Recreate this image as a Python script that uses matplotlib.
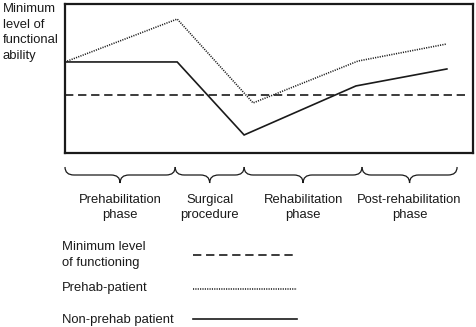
import matplotlib
matplotlib.use("Agg")
import matplotlib.pyplot as plt
from matplotlib.path import Path
from matplotlib.patches import PathPatch
import matplotlib.transforms as mtransforms

plt.rcParams['font.family'] = ['Liberation Sans', 'DejaVu Sans']
plt.rcParams['lines.scale_dashes'] = False

# ---- data (x: time 0-100, y: functional ability 0-100) ----
prehab_x = [0, 27.5, 46.1, 71.8, 93.6]
prehab_y = [61.1, 89.9, 33.6, 61.7, 73.2]
nonprehab_x = [0, 27.5, 43.9, 71.3, 93.6]
nonprehab_y = [61.1, 61.1, 12.1, 45.0, 56.4]
minimum_x = [0, 98.8]
minimum_y = [38.9, 38.9]
phase_edges = [0, 27.0, 43.9, 72.8, 96.1]
phase_labels = ["Prehabilitation\nphase", "Surgical\nprocedure",
                "Rehabilitation\nphase", "Post-rehabilitation\nphase"]
y_label = "Minimum\nlevel of\nfunctional\nability"
legend_labels = ["Minimum level\nof functioning", "Prehab-patient", "Non-prehab patient"]

W, H = 477, 327
fig = plt.figure(figsize=(W / 100, H / 100), dpi=100)
fig.patch.set_facecolor("white")

INK = "#1a1a1a"
FS = 9.4
dash_style = (0, (6.0, 3.4))
dot_style = (0, (0.8, 0.9))

# main axes (pixel box 65..473 x 4..153)
L, R, T, B = 65, 473, 4, 153
ax = fig.add_axes([L / W, (H - B) / H, (R - L) / W, (B - T) / H])
ax.set_xlim(0, 100)
ax.set_ylim(0, 100)
ax.set_xticks([])
ax.set_yticks([])
for s in ax.spines.values():
    s.set_linewidth(1.6)
    s.set_color(INK)

ax.plot(minimum_x, minimum_y, color=INK, lw=1.2, linestyle=dash_style)
ax.plot(prehab_x, prehab_y, color=INK, lw=1.15, linestyle=dot_style)
ax.plot(nonprehab_x, nonprehab_y, color=INK, lw=1.2, solid_joinstyle='miter')

# overlay in pixel coords
ov = fig.add_axes([0, 0, 1, 1], zorder=-1)
ov.set_xlim(0, W)
ov.set_ylim(H, 0)
ov.axis("off")

ov.text(3, 3, y_label, ha="left", va="top", fontsize=FS, color=INK, linespacing=1.4)

# braces: x in data coords of main axes, y in overlay pixels
blend = mtransforms.blended_transform_factory(ax.transData, ov.transData)
yt, ym, ytip = 167, 175, 183
r = 2.2
for i in range(len(phase_edges) - 1):
    x0, x1 = phase_edges[i], phase_edges[i + 1]
    xm = (x0 + x1) / 2
    verts = [(x0, yt), (x0, ym), (x0 + r, ym),
             (xm - r, ym),
             (xm, ym), (xm, ytip),
             (xm, ym), (xm + r, ym),
             (x1 - r, ym),
             (x1, ym), (x1, yt)]
    codes = [Path.MOVETO, Path.CURVE3, Path.CURVE3,
             Path.LINETO,
             Path.CURVE3, Path.CURVE3,
             Path.CURVE3, Path.CURVE3,
             Path.LINETO,
             Path.CURVE3, Path.CURVE3]
    ov.add_patch(PathPatch(Path(verts, codes), transform=blend, fill=False,
                           edgecolor=INK, lw=0.9))
    ov.text(xm, 207.5, phase_labels[i], transform=blend, ha="center", va="center",
            fontsize=FS, color=INK, linespacing=1.35)

# legend
ov.text(62, 255, legend_labels[0], ha="left", va="center", fontsize=FS, color=INK, linespacing=1.4)
ov.text(62, 288, legend_labels[1], ha="left", va="center", fontsize=FS, color=INK)
ov.text(62, 320, legend_labels[2], ha="left", va="center", fontsize=FS, color=INK)
ov.plot([193, 297], [255, 255], color=INK, lw=1.2, linestyle=dash_style)
ov.plot([193, 297], [289, 289], color=INK, lw=1.15, linestyle=dot_style)
ov.plot([193, 297], [319, 319], color=INK, lw=1.2)

fig.savefig("out.png", dpi=100, facecolor="white")
